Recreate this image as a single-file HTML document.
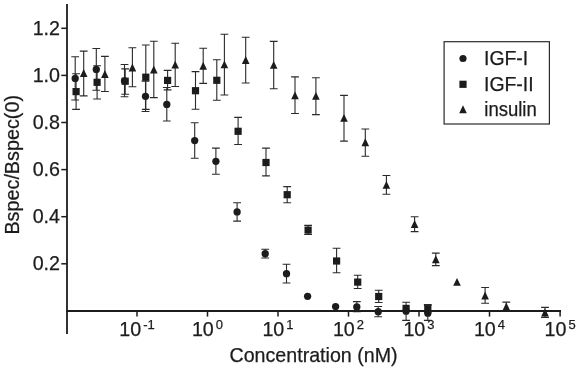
<!DOCTYPE html>
<html><head><meta charset="utf-8"><title>Binding curves</title>
<style>
html,body{margin:0;padding:0;background:#fff}
svg{display:block}
text{font-family:"Liberation Sans",Arial,sans-serif;fill:#1c1c1c;stroke:#1c1c1c;stroke-width:0.25px}
.tick text{font-size:19.7px}
.tick text.sup{font-size:13px}
.ttl{font-size:19.4px}
</style></head><body>
<svg width="579" height="371" viewBox="0 0 579 371">
<rect width="579" height="371" fill="#fff"/>
<g fill="none" stroke="#2a2a2a" stroke-width="1.1"><path d="M75.2 78.4V56.8M71.3 56.8H79.1"/><path d="M75.2 78.4V100.0M71.3 100.0H79.1"/><path d="M96.3 69.4V48.5M92.4 48.5H100.2"/><path d="M96.3 69.4V90.3M92.4 90.3H100.2"/><path d="M124.5 80.9V64.5M120.6 64.5H128.4"/><path d="M124.5 80.9V96.8M120.6 96.8H128.4"/><path d="M145.5 96.3V81.1M141.6 81.1H149.4"/><path d="M145.5 96.3V111.5M141.6 111.5H149.4"/><path d="M166.8 104.4V87.5M162.9 87.5H170.7"/><path d="M166.8 104.4V121.0M162.9 121.0H170.7"/><path d="M194.7 140.6V122.8M190.8 122.8H198.6"/><path d="M194.7 140.6V158.2M190.8 158.2H198.6"/><path d="M215.9 161.3V148.1M212.0 148.1H219.8"/><path d="M215.9 161.3V174.2M212.0 174.2H219.8"/><path d="M237.1 211.9V202.8M233.2 202.8H241.0"/><path d="M237.1 211.9V221.1M233.2 221.1H241.0"/><path d="M265.2 253.7V249.3M261.3 249.3H269.1"/><path d="M265.2 253.7V258.0M261.3 258.0H269.1"/><path d="M286.5 273.7V264.2M282.6 264.2H290.4"/><path d="M286.5 273.7V283.0M282.6 283.0H290.4"/><path d="M356.8 306.9V301.6M352.9 301.6H360.7"/><path d="M356.8 306.9V311.6M352.9 311.6H360.7"/><path d="M378.2 311.7V306.5M374.3 306.5H382.1"/><path d="M378.2 311.7V316.8M374.3 316.8H382.1"/><path d="M406.1 311.2V302.3M402.2 302.3H410.0"/><path d="M406.1 311.2V320.4M402.2 320.4H410.0"/><path d="M427.8 313.2V305.4M423.9 305.4H431.7"/><path d="M427.8 313.2V320.4M423.9 320.4H431.7"/><path d="M76.1 91.6V73.8M72.2 73.8H80.0"/><path d="M76.1 91.6V109.4M72.2 109.4H80.0"/><path d="M97.1 82.3V65.8M93.2 65.8H101.0"/><path d="M97.1 82.3V99.0M93.2 99.0H101.0"/><path d="M125.2 81.2V68.9M121.3 68.9H129.1"/><path d="M125.2 81.2V94.2M121.3 94.2H129.1"/><path d="M145.8 77.2V45.0M141.9 45.0H149.7"/><path d="M145.8 77.2V109.4M141.9 109.4H149.7"/><path d="M167.6 80.4V70.4M163.7 70.4H171.5"/><path d="M167.6 80.4V89.9M163.7 89.9H171.5"/><path d="M195.5 90.7V71.6M191.6 71.6H199.4"/><path d="M195.5 90.7V109.2M191.6 109.2H199.4"/><path d="M216.8 80.3V59.7M212.9 59.7H220.7"/><path d="M216.8 80.3V100.2M212.9 100.2H220.7"/><path d="M238.1 131.3V117.4M234.2 117.4H242.0"/><path d="M238.1 131.3V144.5M234.2 144.5H242.0"/><path d="M266.0 162.5V148.1M262.1 148.1H269.9"/><path d="M266.0 162.5V175.9M262.1 175.9H269.9"/><path d="M287.2 194.7V186.6M283.3 186.6H291.1"/><path d="M287.2 194.7V202.8M283.3 202.8H291.1"/><path d="M308.1 230.1V225.4M304.2 225.4H312.0"/><path d="M308.1 230.1V234.5M304.2 234.5H312.0"/><path d="M336.6 261.0V248.3M332.7 248.3H340.5"/><path d="M336.6 261.0V272.7M332.7 272.7H340.5"/><path d="M357.7 282.1V275.2M353.8 275.2H361.6"/><path d="M357.7 282.1V288.5M353.8 288.5H361.6"/><path d="M378.7 296.5V290.2M374.8 290.2H382.6"/><path d="M378.7 296.5V302.5M374.8 302.5H382.6"/><path d="M427.8 309.5V304.5M423.9 304.5H431.7"/><path d="M83.7 73.5V51.1M79.8 51.1H87.6"/><path d="M83.7 73.5V95.9M79.8 95.9H87.6"/><path d="M104.9 74.6V56.4M101.0 56.4H108.8"/><path d="M104.9 74.6V91.5M101.0 91.5H108.8"/><path d="M132.4 68.1V47.7M128.5 47.7H136.3"/><path d="M132.4 68.1V86.7M128.5 86.7H136.3"/><path d="M153.8 70.1V41.3M149.9 41.3H157.7"/><path d="M153.8 70.1V97.6M149.9 97.6H157.7"/><path d="M175.2 65.2V43.3M171.3 43.3H179.1"/><path d="M175.2 65.2V86.5M171.3 86.5H179.1"/><path d="M203.2 66.3V48.2M199.3 48.2H207.1"/><path d="M203.2 66.3V83.4M199.3 83.4H207.1"/><path d="M224.4 64.9V34.3M220.5 34.3H228.3"/><path d="M224.4 64.9V95.0M220.5 95.0H228.3"/><path d="M245.7 60.6V37.3M241.8 37.3H249.6"/><path d="M245.7 60.6V83.0M241.8 83.0H249.6"/><path d="M273.7 65.4V41.4M269.8 41.4H277.6"/><path d="M273.7 65.4V88.7M269.8 88.7H277.6"/><path d="M295.0 95.9V76.9M291.1 76.9H298.9"/><path d="M295.0 95.9V113.5M291.1 113.5H298.9"/><path d="M315.9 96.4V77.8M312.0 77.8H319.8"/><path d="M315.9 96.4V114.6M312.0 114.6H319.8"/><path d="M344.0 118.4V95.4M340.1 95.4H347.9"/><path d="M344.0 118.4V141.1M340.1 141.1H347.9"/><path d="M365.3 142.8V129.0M361.4 129.0H369.2"/><path d="M365.3 142.8V156.3M361.4 156.3H369.2"/><path d="M386.4 185.4V175.5M382.5 175.5H390.3"/><path d="M386.4 185.4V194.2M382.5 194.2H390.3"/><path d="M414.6 224.5V216.7M410.7 216.7H418.5"/><path d="M414.6 224.5V231.6M410.7 231.6H418.5"/><path d="M435.8 259.8V253.1M431.9 253.1H439.7"/><path d="M435.8 259.8V265.6M431.9 265.6H439.7"/><path d="M485.1 296.0V287.5M481.2 287.5H489.0"/><path d="M485.1 296.0V303.2M481.2 303.2H489.0"/><path d="M506.3 307.1V302.1M502.4 302.1H510.2"/><path d="M545.0 313.0V307.4M541.1 307.4H548.9"/><path d="M545.0 313.0V317.4M541.1 317.4H548.9"/></g>
<g fill="#1c1c1c"><circle cx="75.2" cy="78.4" r="3.65"/><circle cx="96.3" cy="69.4" r="3.65"/><circle cx="124.5" cy="80.9" r="3.65"/><circle cx="145.5" cy="96.3" r="3.65"/><circle cx="166.8" cy="104.4" r="3.65"/><circle cx="194.7" cy="140.6" r="3.65"/><circle cx="215.9" cy="161.3" r="3.65"/><circle cx="237.1" cy="211.9" r="3.65"/><circle cx="265.2" cy="253.7" r="3.65"/><circle cx="286.5" cy="273.7" r="3.65"/><circle cx="307.6" cy="296.3" r="3.65"/><circle cx="335.6" cy="306.6" r="3.65"/><circle cx="356.8" cy="306.9" r="3.65"/><circle cx="378.2" cy="311.7" r="3.65"/><circle cx="406.1" cy="311.2" r="3.65"/><circle cx="427.8" cy="313.2" r="3.65"/><rect x="72.5" y="88.0" width="7.2" height="7.2"/><rect x="93.5" y="78.7" width="7.2" height="7.2"/><rect x="121.6" y="77.6" width="7.2" height="7.2"/><rect x="142.2" y="73.6" width="7.2" height="7.2"/><rect x="164.0" y="76.8" width="7.2" height="7.2"/><rect x="191.9" y="87.1" width="7.2" height="7.2"/><rect x="213.2" y="76.7" width="7.2" height="7.2"/><rect x="234.5" y="127.7" width="7.2" height="7.2"/><rect x="262.4" y="158.9" width="7.2" height="7.2"/><rect x="283.6" y="191.1" width="7.2" height="7.2"/><rect x="304.5" y="226.5" width="7.2" height="7.2"/><rect x="333.0" y="257.4" width="7.2" height="7.2"/><rect x="354.1" y="278.5" width="7.2" height="7.2"/><rect x="375.1" y="292.9" width="7.2" height="7.2"/><rect x="402.5" y="304.8" width="7.2" height="7.2"/><rect x="424.2" y="305.9" width="7.2" height="7.2"/><path d="M83.7 69.0L87.5 76.9H79.9Z"/><path d="M104.9 70.1L108.7 78.0H101.1Z"/><path d="M132.4 63.6L136.2 71.5H128.6Z"/><path d="M153.8 65.6L157.6 73.5H150.0Z"/><path d="M175.2 60.7L179.0 68.6H171.4Z"/><path d="M203.2 61.8L207.0 69.7H199.4Z"/><path d="M224.4 60.4L228.2 68.3H220.6Z"/><path d="M245.7 56.1L249.5 64.0H241.9Z"/><path d="M273.7 60.9L277.5 68.8H269.9Z"/><path d="M295.0 91.4L298.8 99.3H291.2Z"/><path d="M315.9 91.9L319.7 99.8H312.1Z"/><path d="M344.0 113.9L347.8 121.8H340.2Z"/><path d="M365.3 138.3L369.1 146.2H361.5Z"/><path d="M386.4 180.9L390.2 188.8H382.6Z"/><path d="M414.6 220.0L418.4 227.9H410.8Z"/><path d="M435.8 255.3L439.6 263.2H432.0Z"/><path d="M457.0 277.9L460.8 285.8H453.2Z"/><path d="M485.1 291.5L488.9 299.4H481.3Z"/><path d="M506.3 302.6L510.1 310.5H502.5Z"/><path d="M545.0 308.5L548.8 316.4H541.2Z"/></g>
<g fill="none" stroke="#1c1c1c" stroke-width="1.8"><path d="M67 4V334"/><path d="M66.1 311H561"/></g>
<g fill="none" stroke="#1c1c1c" stroke-width="1.5"><path d="M61.3 28.3H67"/><path d="M61.3 75.4H67"/><path d="M61.3 122.5H67"/><path d="M61.3 169.6H67"/><path d="M61.3 216.7H67"/><path d="M61.3 263.8H67"/><path d="M137.0 311V316.6"/><path d="M207.5 311V316.6"/><path d="M278.0 311V316.6"/><path d="M348.5 311V316.6"/><path d="M419.0 311V316.6"/><path d="M489.5 311V316.6"/><path d="M560.1 311V316.6"/></g>
<g class="tick"><text x="60.0" y="34.8" text-anchor="end">1.2</text><text x="60.0" y="81.9" text-anchor="end">1.0</text><text x="60.0" y="129.0" text-anchor="end">0.8</text><text x="60.0" y="176.1" text-anchor="end">0.6</text><text x="60.0" y="223.2" text-anchor="end">0.4</text><text x="60.0" y="270.3" text-anchor="end">0.2</text><text x="119.3" y="335.9">10</text><text class="sup" x="143.2" y="329.4">-1</text><text x="191.9" y="335.9">10</text><text class="sup" x="215.8" y="329.4">0</text><text x="262.4" y="335.9">10</text><text class="sup" x="286.3" y="329.4">1</text><text x="332.9" y="335.9">10</text><text class="sup" x="356.8" y="329.4">2</text><text x="403.4" y="335.9">10</text><text class="sup" x="427.3" y="329.4">3</text><text x="473.9" y="335.9">10</text><text class="sup" x="497.8" y="329.4">4</text><text x="544.5" y="335.9">10</text><text class="sup" x="568.4" y="329.4">5</text></g>
<text class="ttl" style="font-size:19.8px" transform="translate(18.5 234.6) rotate(-90)">Bspec/Bspec(0)</text>
<text class="ttl" style="font-size:19.65px" x="229.5" y="362.4">Concentration (nM)</text>
<rect x="444.1" y="41.7" width="105.3" height="82.3" fill="#fff" stroke="#2a2a2a" stroke-width="1.2"/>
<g fill="#1c1c1c"><circle cx="463.0" cy="58.5" r="3.6"/><rect x="459.4" y="80.7" width="7.2" height="7.2"/><path d="M463.0 105.3L466.8 113.2H459.2Z"/></g>
<text class="ttl" x="484" y="64.7">IGF-I</text>
<text class="ttl" x="484" y="90.8">IGF-II</text>
<text class="ttl" x="484.3" y="115.9" textLength="52.5" lengthAdjust="spacingAndGlyphs">insulin</text>
</svg>
</body></html>
